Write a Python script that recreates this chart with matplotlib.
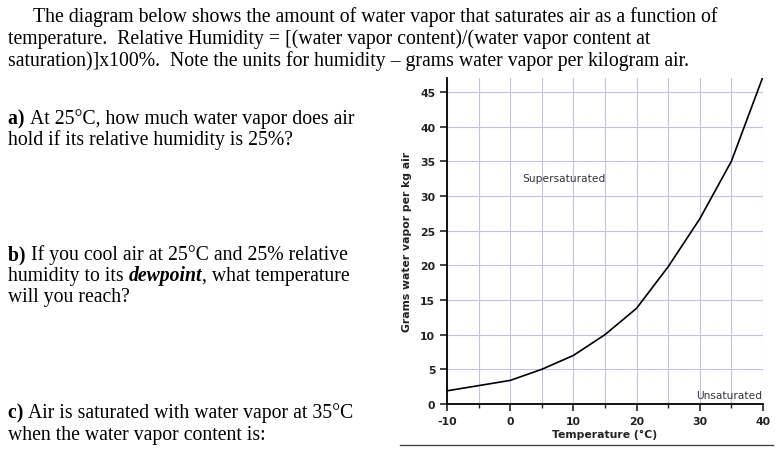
import matplotlib
matplotlib.use('Agg')

import matplotlib.pyplot as plt
from matplotlib.lines import Line2D

# saturation curve
temps = [-10, 0, 5, 10, 15, 20, 25, 30, 35, 40]
vapor = [1.9, 3.4, 5.0, 7.0, 10.0, 13.8, 19.8, 26.7, 35.0, 47.2]

x_ticks = [-10, 0, 10, 20, 30, 40]
x_labels = ['-10', '0', '10', '20', '30', '40']
x_minor = [-5, 5, 15, 25, 35]
y_ticks = [0, 5, 10, 15, 20, 25, 30, 35, 40, 45]

intro = ["The diagram below shows the amount of water vapor that saturates air as a function of",
         "temperature.  Relative Humidity = [(water vapor content)/(water vapor content at",
         "saturation)]x100%.  Note the units for humidity \u2013 grams water vapor per kilogram air."]

grid_col = '#c6bfe8'
plt.rcParams['grid.color'] = grid_col

fig = plt.figure(figsize=(7.77, 4.60), dpi=100)
W, H = 777, 460
renderer = fig.canvas.get_renderer()

serif = 'Liberation Serif'
fs = 14.2


def line(px, py, parts):
    # parts: list of (text, weight, style); drawn one after another on a baseline
    x = px
    for s, weight, style in parts:
        t = fig.text(x / W, 1 - py / H, s, family=serif, fontsize=fs, va='baseline',
                     ha='left', weight=weight, style=style)
        x += t.get_window_extent(renderer).width
    return x


N = 'normal'
line(33, 22, [(intro[0], N, N)])
line(8, 44, [(intro[1], N, N)])
line(8, 66, [(intro[2], N, N)])

line(8, 124, [("a) ", 'bold', N), ("At 25\u00b0C, how much water vapor does air", N, N)])
line(8, 145, [("hold if its relative humidity is 25%?", N, N)])

line(8, 260, [("b) ", 'bold', N), ("If you cool air at 25\u00b0C and 25% relative", N, N)])
line(8, 281, [("humidity to its ", N, N), ("dewpoint", 'bold', 'italic'),
              (", what temperature", N, N)])
line(8, 302, [("will you reach?", N, N)])

line(8, 418, [("c) ", 'bold', N), ("Air is saturated with water vapor at 35\u00b0C", N, N)])
line(8, 440, [("when the water vapor content is:", N, N)])

# chart
ax = fig.add_axes([447 / W, 1 - 405 / H, (763 - 447) / W, (405 - 79) / H])
ax.plot(temps, vapor, color='black', lw=1.2, zorder=3)
ax.set_xlim(-10, 40)
ax.set_ylim(0, 47)
ax.set_xticks(x_ticks)
ax.set_xticklabels(x_labels)
ax.set_xticks(x_minor, minor=True)
ax.set_yticks(y_ticks)
for s in ['top', 'right']:
    ax.spines[s].set_visible(False)
ax.spines['left'].set_linewidth(1.3)
ax.spines['bottom'].set_linewidth(1.3)
ax.tick_params(which='major', length=5, width=1.2, labelsize=7.8, colors='#222222',
               grid_color=grid_col)
ax.tick_params(which='minor', length=3, width=1.0, colors='#222222', grid_color=grid_col)
ax.grid(True, which='both', color=grid_col, lw=0.8)
ax.set_axisbelow(True)
for lab in ax.get_xticklabels() + ax.get_yticklabels():
    lab.set_fontweight('bold')
ax.set_xlabel('Temperature (\u00b0C)', fontsize=7.8, fontweight='bold', labelpad=2, color='#222222')
ax.set_ylabel('Grams water vapor per kg air', fontsize=7.8, fontweight='bold', labelpad=6,
              color='#222222')
ax.text(1.9, 32.6, 'Supersaturated', fontsize=7.7, color='#333333', va='center')
ax.text(39.9, 0.9, 'Unsaturated', fontsize=7.7, color='#333333', ha='right')

# separator line under the chart
fig.add_artist(Line2D([400 / W, 773 / W], [1 - 446 / H, 1 - 446 / H], color='#444444', lw=1.0))

fig.savefig('out.png', dpi=100)
